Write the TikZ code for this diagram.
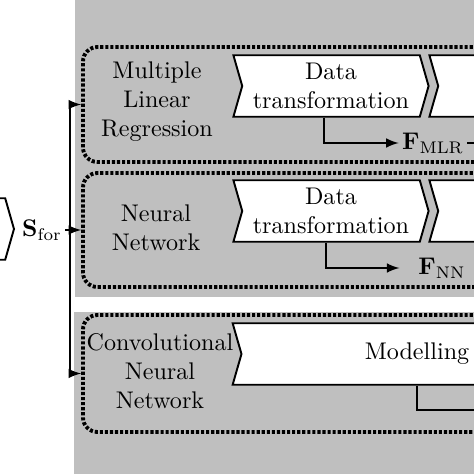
\documentclass[tikz,border=0pt]{standalone}
\usepackage{amsmath}
\usetikzlibrary{shapes.symbols,fit,calc}
\begin{document}
\begin{tikzpicture}[x=0.415pt,y=-0.415pt,>=latex,line width=0.8pt,
    chev/.style={signal,signal from=west,signal to=east,signal pointer angle=148,
        draw,fill=white,line width=0.8pt,minimum height=25.5pt,inner sep=1pt,align=center},
    dotbox/.style={draw,rounded corners=6pt,line width=1.6pt,
        dash pattern=on 1.3pt off 0.8pt,inner sep=0pt}]
\useasboundingbox (0,0) rectangle (474,474);
% grey panels
\fill[black!25] (75,-20) rectangle (520,297);
\fill[black!25] (74,312) rectangle (520,500);
% model boxes
\foreach \X/\T/\B in {mlr/47/162,nn/173/287,cnn/315/432}
    \node[dotbox,fit={(83,\T) (720,\B)}] (\X) {};
\node[align=center] (mlr-l) at (157,102) {Multiple\\Linear\\Regression};
\node[align=center] (nn-l) at (156,228) {Neural\\Network};
\node[align=center] (cnn-l) at (160,371) {Convolutional\\Neural\\Network};
% steps
\foreach \Y/\P in {1/86,2/211}{
    \node[chev,minimum width=81pt] (dt-\Y) at (331,\P) {Data\\transformation};
    \node[chev,minimum width=81pt] (md-\Y) at (527,\P) {};}
\node[chev,minimum width=153pt] (md-3) at (417,354) {Modelling};
\node[chev,minimum width=81pt,anchor=east] (in) at (15,229) {};
% series and features
\node[inner sep=1pt] (sfor) at (42,230) {$\mathbf{S}_{\mathrm{for}}$};
\coordinate (split) at (70,230);
\draw[->] (sfor) -- (nn.west);
\draw[->] (split) |- (mlr.west);
\draw[->] (split) |- (cnn.west);
\node[inner sep=1pt] (fmlr) at (433,143) {$\mathbf{F}_{\mathrm{MLR}}$};
\node[inner sep=1pt] (fnn) at (442,268) {$\mathbf{F}_{\mathrm{NN}}$};
\draw[->] ([xshift=-3pt]dt-1.south) |- (fmlr.west);
\draw[->,shorten >=6.5pt] ([xshift=-2pt]dt-2.south) |- (fnn.west);
\coordinate (mlr-out) at (500,143);
\draw (fmlr) -- (mlr-out);
\coordinate (cnn-out) at (500,410);
\draw (md-3.south) |- (cnn-out);
\end{tikzpicture}
\end{document}
